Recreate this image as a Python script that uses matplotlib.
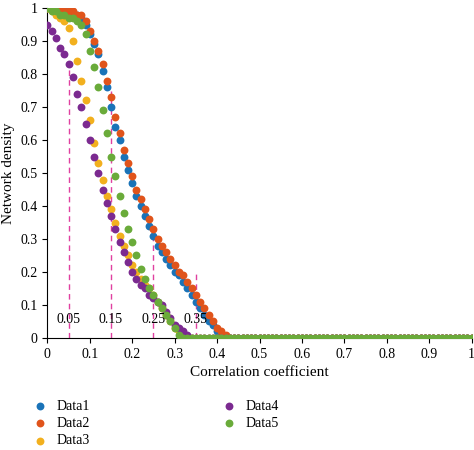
import numpy as np
import matplotlib.pyplot as plt

plt.rcParams['font.family'] = ['Liberation Serif', 'DejaVu Serif']

# correlation coefficient grid (0 .. 1, step 0.01)
x = np.round(np.arange(0, 101) * 0.01, 2)

# estimated values for x = 0.00 .. 0.42, zero afterwards
data1_head = [1.0, 1.0, 0.99, 0.99, 0.99, 0.99, 0.98, 0.98, 0.97, 0.95, 0.92, 0.89, 0.86, 0.81, 0.76,
              0.70, 0.64, 0.60, 0.55, 0.51, 0.47, 0.43, 0.40, 0.37, 0.34, 0.31, 0.28, 0.26, 0.24, 0.22,
              0.20, 0.19, 0.17, 0.15, 0.13, 0.11, 0.09, 0.07, 0.05, 0.04, 0.02, 0.01, 0.0]
data2_head = [1.0, 1.0, 1.0, 1.0, 0.99, 0.99, 0.99, 0.98, 0.98, 0.96, 0.93, 0.90, 0.87, 0.83, 0.78,
              0.73, 0.67, 0.62, 0.57, 0.53, 0.49, 0.45, 0.42, 0.39, 0.36, 0.33, 0.30, 0.28, 0.26, 0.24,
              0.22, 0.20, 0.19, 0.17, 0.15, 0.13, 0.11, 0.09, 0.07, 0.05, 0.03, 0.02, 0.01]
data3_head = [1.0, 0.99, 0.98, 0.97, 0.96, 0.94, 0.90, 0.84, 0.78, 0.72, 0.66, 0.59, 0.53, 0.48, 0.43,
              0.39, 0.35, 0.31, 0.28, 0.25, 0.22, 0.20, 0.18, 0.16, 0.15, 0.13, 0.11, 0.09, 0.07, 0.05,
              0.03, 0.02, 0.01, 0.0, 0.0, 0.0, 0.0, 0.0, 0.0, 0.0, 0.0, 0.0, 0.0]
data4_head = [0.95, 0.93, 0.91, 0.88, 0.86, 0.83, 0.79, 0.74, 0.70, 0.65, 0.60, 0.55, 0.50, 0.45, 0.41,
              0.37, 0.33, 0.29, 0.26, 0.23, 0.20, 0.18, 0.16, 0.15, 0.13, 0.12, 0.11, 0.10, 0.08, 0.06,
              0.04, 0.03, 0.02, 0.01, 0.0, 0.0, 0.0, 0.0, 0.0, 0.0, 0.0, 0.0, 0.0]
data5_head = [1.0, 0.99, 0.99, 0.98, 0.98, 0.97, 0.97, 0.96, 0.95, 0.92, 0.87, 0.82, 0.76, 0.69, 0.62,
              0.55, 0.49, 0.43, 0.38, 0.33, 0.29, 0.25, 0.21, 0.18, 0.15, 0.13, 0.11, 0.09, 0.07, 0.05,
              0.03, 0.01, 0.0, 0.0, 0.0, 0.0, 0.0, 0.0, 0.0, 0.0, 0.0, 0.0, 0.0]

names = ["Data1", "Data2", "Data3", "Data4", "Data5"]
colors = ["#1a73b8", "#e0541b", "#f2b01e", "#7b2a90", "#6aab3a"]

# dashed markers at chosen thresholds and their heights
thresholds = [0.05, 0.15, 0.25, 0.35]
threshold_tops = [0.82, 0.75, 0.35, 0.20]


def full_series(head):
    return np.array(head + [0.0] * (len(x) - len(head)))


series = [full_series(h) for h in [data1_head, data2_head, data3_head, data4_head, data5_head]]

fig = plt.figure(figsize=(4.74, 4.5), dpi=100)
ax = fig.add_axes([0.10, 0.249, 0.895, 0.733])

for ys, name, col in zip(series, names, colors):
    ax.scatter(x, ys, s=32, color=col, label=name, linewidths=0, zorder=3)

for t, top in zip(thresholds, threshold_tops):
    ax.plot([t, t], [0, top], ls=(0, (4, 3)), color="#e040a0", lw=1, zorder=2)
    ax.text(t, 0.035, f"{t:.2f}", ha="center", va="bottom", fontsize=10, zorder=4)

ax.set_xlim(0, 1)
ax.set_ylim(0, 1)
ax.set_xticks(np.arange(0, 1.01, 0.1))
ax.set_yticks(np.arange(0, 1.01, 0.1))
ax.set_xticklabels(["0"] + [f"{v:.1f}" for v in np.arange(0.1, 0.95, 0.1)] + ["1"])
ax.set_yticklabels(["0"] + [f"{v:.1f}" for v in np.arange(0.1, 0.95, 0.1)] + ["1"])
ax.tick_params(labelsize=10)
for side in ["top", "right"]:
    ax.spines[side].set_visible(False)
ax.set_xlabel("Correlation coefficient", fontsize=11)
ax.set_ylabel("Network density", fontsize=11)

ax.legend(loc="upper left", bbox_to_anchor=(-0.08, -0.15), ncol=2, frameon=False,
          fontsize=10, handletextpad=0.2, columnspacing=9, labelspacing=0.3, markerscale=1.0)

fig.savefig("out.png")
